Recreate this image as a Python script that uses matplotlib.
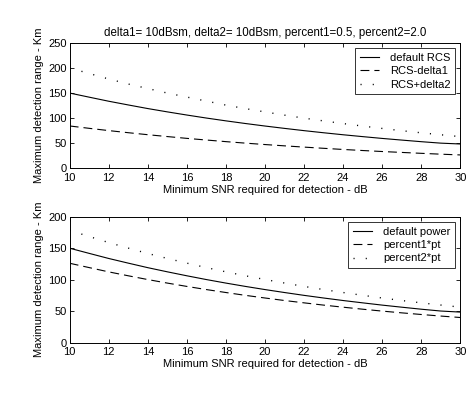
import numpy as np
import matplotlib.pyplot as plt

plt.rcParams['font.family'] = ['Liberation Sans', 'DejaVu Sans']

# valori (SNR in dB, portata in km)
snr = np.arange(10, 31)

r_default = [150, 141.8, 133.7, 126.3, 119.1, 112.5, 106.2, 100.2, 94.6, 89.3, 84.3,
             79.6, 75.1, 70.9, 66.9, 63.2, 59.6, 56.3, 53.1, 50.2, 48.5]
r_rcs_meno = [84.4, 79.7, 75.2, 71.0, 67.0, 63.3, 59.7, 56.4, 53.2, 50.2, 47.4,
              44.8, 42.3, 39.9, 37.6, 35.5, 33.5, 31.7, 29.9, 28.2, 26.7]
r_rcs_piu = [200, 189, 178, 168, 159, 150, 142, 134, 126, 119, 112.4,
             106, 100, 94.5, 89.2, 84.2, 79.5, 75.0, 70.8, 66.9, 63.2]

r_perc1 = [126.1, 119.2, 112.4, 106.2, 100.2, 94.6, 89.3, 84.3, 79.6, 75.1, 70.9,
           66.9, 63.2, 59.6, 56.3, 53.1, 50.1, 47.3, 44.7, 42.2, 39.9]
r_perc2 = [178.4, 168.6, 159.0, 150.2, 141.6, 133.8, 126.3, 119.2, 112.5, 106.2, 100.3,
           94.7, 89.3, 84.3, 79.6, 75.2, 70.9, 66.9, 63.2, 59.7, 56.4]

# i trattini vengono scalati per lo spessore della linea
tratteggio = (0, (8.0, 4.5))
puntini = (0, (0.8, 8.0))

fig = plt.figure(figsize=(4.74, 3.97), dpi=100)
ax1 = fig.add_axes([0.147, 0.576, 0.824, 0.316])
ax2 = fig.add_axes([0.147, 0.137, 0.824, 0.317])

ax1.plot(snr, r_default, color='black', lw=0.8, label='default RCS')
ax1.plot(snr, r_rcs_meno, color='black', lw=0.8, linestyle=tratteggio, label='RCS-delta1')
ax1.plot(snr, r_rcs_piu, color='black', lw=1.0, linestyle=puntini, label='RCS+delta2')
ax1.set_ylim(0, 250)
ax1.set_yticks([0, 50, 100, 150, 200, 250])
ax1.set_title('delta1= 10dBsm, delta2= 10dBsm, percent1=0.5, percent2=2.0', fontsize=8.3, pad=5)

ax2.plot(snr, r_default, color='black', lw=0.8, label='default power')
ax2.plot(snr, r_perc1, color='black', lw=0.8, linestyle=tratteggio, label='percent1*pt')
ax2.plot(snr, r_perc2, color='black', lw=1.0, linestyle=puntini, label='percent2*pt')
ax2.set_ylim(0, 200)
ax2.set_yticks([0, 50, 100, 150, 200])

for ax in (ax1, ax2):
    ax.set_xlim(10, 30)
    ax.set_xticks(range(10, 31, 2))
    ax.tick_params(direction='in', top=True, right=True, labelsize=8, length=3, width=0.6)
    ax.tick_params(axis='x', pad=3.5)
    ax.tick_params(axis='y', pad=2)
    for s in ax.spines.values():
        s.set_linewidth(0.7)
    ax.set_xlabel('Minimum SNR required for detection - dB', fontsize=8, labelpad=1)
    ax.set_ylabel('Maximum detection range - Km', fontsize=8, labelpad=3)
    leg = ax.legend(loc='upper right', fontsize=8, fancybox=False, edgecolor='black',
                    handlelength=1.7, borderpad=0.4, labelspacing=0.3, handletextpad=1.0,
                    borderaxespad=0.5)
    leg.get_frame().set_linewidth(0.7)

fig.savefig('out.png', dpi=100)
